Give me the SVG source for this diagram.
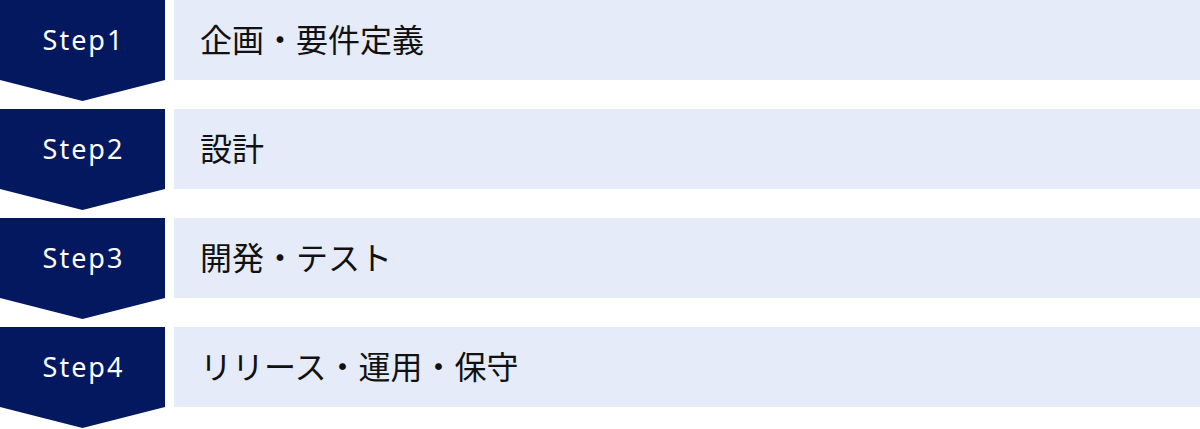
<svg xmlns="http://www.w3.org/2000/svg" width="1200" height="429" viewBox="0 0 1200 429">
<style>
.badge{fill:#04185f}
.bar{fill:#e5ebf8}
.step{font-family:"Noto Sans","Noto Sans CJK JP",sans-serif;font-size:27px;fill:#ffffff;text-anchor:middle;letter-spacing:2px}
.label{font-family:"Noto Sans CJK JP","Noto Sans",sans-serif;font-size:32px;fill:#111111}
</style>
<defs>
<path id="chev" d="M0 0H165V80L82.5 101L0 80Z"/>
</defs>
<rect width="1200" height="429" fill="#ffffff"/>
<g id="step1">
<use href="#chev" class="badge" x="0" y="0"/>
<rect class="bar" x="174" y="0" width="1026" height="80"/>
<text class="step" x="83.5" y="50">Step1</text>
<text class="label" x="200" y="52">企画・要件定義</text>
</g>
<g id="step2">
<use href="#chev" class="badge" x="0" y="109"/>
<rect class="bar" x="174" y="109" width="1026" height="80"/>
<text class="step" x="83.5" y="159">Step2</text>
<text class="label" x="200" y="161">設計</text>
</g>
<g id="step3">
<use href="#chev" class="badge" x="0" y="218"/>
<rect class="bar" x="174" y="218" width="1026" height="80"/>
<text class="step" x="83.5" y="268">Step3</text>
<text class="label" x="200" y="270">開発・テスト</text>
</g>
<g id="step4">
<use href="#chev" class="badge" x="0" y="327"/>
<rect class="bar" x="174" y="327" width="1026" height="80"/>
<text class="step" x="83.5" y="377">Step4</text>
<text class="label" x="200" y="379">リリース・運用・保守</text>
</g>
<g id="connectors"/>
</svg>
